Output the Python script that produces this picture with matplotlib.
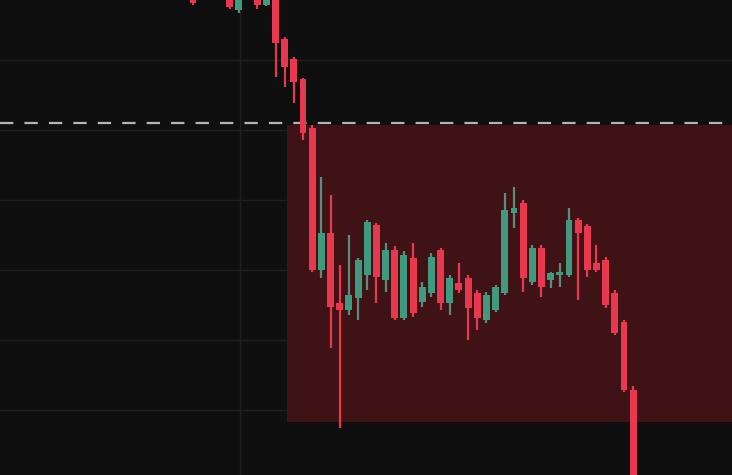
import matplotlib
matplotlib.use("Agg")
import matplotlib.pyplot as plt
from matplotlib.patches import Rectangle
import numpy as np

# candle index (positions of visible candles)
idx = [0, 4, 5, 7, 8, 9, 10, 11, 12, 13, 14, 15, 16, 17, 18, 19, 20, 21, 22, 23,
       24, 25, 26, 27, 28, 29, 30, 31, 32, 33, 34, 35, 36, 37, 38, 39, 40, 41, 42,
       43, 44, 45, 46, 47, 48]
opens = [69.0, 69.2, 67.1, 69.0, 67.9, 69.0, 63.0, 60.1, 57.3, 50.3, 30.0, 35.3, 25.3, 24.3, 26.0,
         29.3, 36.4, 28.6, 32.9, 23.1, 31.7, 25.4, 26.7, 32.9, 25.3, 28.1, 28.9, 26.7, 22.9, 24.3,
         26.7, 38.1, 39.6, 28.3, 33.1, 28.6, 29.3, 29.3, 37.1, 36.3, 31.0, 31.4, 26.7, 22.6, 12.9]
highs = [69.5, 69.5, 69.5, 69.5, 69.5, 69.5, 63.3, 60.4, 57.4, 50.7, 43.3, 40.7, 30.7, 35.0, 31.7,
         37.1, 36.7, 33.9, 33.4, 32.7, 33.9, 28.3, 32.4, 33.1, 29.3, 31.0, 29.3, 27.1, 26.9, 27.9,
         41.0, 41.9, 40.0, 33.6, 33.6, 29.7, 31.0, 38.9, 37.4, 36.6, 33.6, 31.9, 27.1, 22.9, 13.4]
lows = [67.9, 67.3, 66.7, 67.3, 67.7, 57.6, 56.1, 53.9, 48.6, 29.7, 28.9, 18.9, 7.4, 23.6, 22.9,
        27.1, 25.3, 26.9, 22.9, 22.9, 23.3, 24.7, 26.1, 24.3, 23.6, 26.7, 20.0, 21.4, 22.4, 24.0,
        26.4, 36.0, 26.9, 27.9, 26.1, 27.4, 27.6, 29.0, 25.7, 29.0, 29.7, 24.6, 20.7, 12.6, -2.0]
closes = [68.1, 67.6, 69.0, 67.9, 69.0, 62.4, 59.0, 56.9, 49.6, 30.0, 35.3, 24.7, 24.3, 26.4, 31.4,
          36.9, 29.0, 32.9, 23.1, 32.1, 23.9, 27.6, 31.9, 25.3, 28.9, 27.1, 24.6, 23.1, 26.4, 27.6,
          38.6, 38.9, 28.9, 33.1, 27.6, 29.6, 29.7, 37.1, 35.3, 30.0, 30.0, 25.0, 21.0, 12.9, -1.0]

ref_level = 51.0
zone_start, zone_top, zone_bottom = 10.25, 50.7, 8.3

BG = "#0f0f0f"
UP = "#3f9a80"
UP_WICK = "#5f8a7c"
DOWN = "#e8384f"

fig = plt.figure(figsize=(7.32, 4.75), dpi=100, facecolor=BG)
ax = fig.add_axes([0, 0, 1, 1])
ax.set_facecolor(BG)
ax.set_xlim(-21.05, 58.78)
ax.set_ylim(0.714, 68.57)

# grid
for y in [10, 20, 30, 40, 50, 60]:
    ax.axhline(y, color="#1f1f1f", lw=1, zorder=0)
ax.axvline(5.1, color="#1f1f1f", lw=1, zorder=0)

# zone
ax.add_patch(Rectangle((zone_start, zone_bottom), 100, zone_top - zone_bottom,
                       facecolor="#3f1215", edgecolor="none", zorder=1))

# dashed reference line
ax.axhline(ref_level, color="#b5b5b5", lw=1.6, dashes=(6, 5), zorder=2)

w = 0.75
for x, o, h, l, c in zip(idx, opens, highs, lows, closes):
    up = c >= o
    col = UP if up else DOWN
    ax.plot([x, x], [l, h], color=UP_WICK if up else DOWN, lw=1.6, zorder=3,
            solid_capstyle="butt")
    bottom = min(o, c)
    height = max(abs(c - o), 0.35)
    ax.add_patch(Rectangle((x - w / 2, bottom), w, height, facecolor=col,
                           edgecolor="none", zorder=4))

ax.axis("off")
fig.savefig("out.png", dpi=100, facecolor=BG)
